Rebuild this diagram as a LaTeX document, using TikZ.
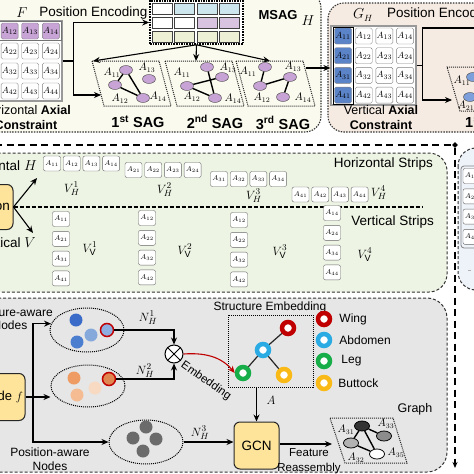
\documentclass[tikz,border=0pt]{standalone}
\usepackage{amsmath}
\usepackage{fontspec}
\setmainfont{Liberation Sans}
\usetikzlibrary{arrows.meta,shapes.geometric,positioning}

\definecolor{creamfill}{HTML}{FBFAEF}
\definecolor{peachfill}{HTML}{F6EBE2}
\definecolor{greenfill}{HTML}{EDF4E4}
\definecolor{grayfill}{HTML}{E6E6E6}
\definecolor{bluefill}{HTML}{EEF3FA}
\definecolor{nodeyellow}{HTML}{FDE49A}
\definecolor{sagpurple}{HTML}{C7A3D6}
\definecolor{colblue}{HTML}{5B83C8}
\definecolor{sagblue}{HTML}{7DA0DC}
\definecolor{fmblue}{HTML}{CDE6EE}
\definecolor{fmpurple}{HTML}{D8C3E0}
\definecolor{fmgreen}{HTML}{EEF0D6}
\definecolor{wingred}{HTML}{C00000}
\definecolor{abdblue}{HTML}{2AABE4}
\definecolor{leggreen}{HTML}{17AD49}
\definecolor{buttyellow}{HTML}{F9B916}
\definecolor{blueA}{HTML}{3A6BC8}
\definecolor{blueB}{HTML}{4C7ED0}
\definecolor{blueC}{HTML}{86A9DB}
\definecolor{blueR}{HTML}{8DAEE0}
\definecolor{orgA}{HTML}{EE9B64}
\definecolor{orgB}{HTML}{F5BC93}
\definecolor{orgC}{HTML}{F8D9C2}
\definecolor{orgR}{HTML}{E08650}
\definecolor{graydot}{HTML}{6B6B6B}

\newcommand{\fsz}[1]{\fontsize{#1}{#1}\selectfont}

\begin{document}
\begin{tikzpicture}[x=1pt,y=-1pt,
  cell/.style={draw=black!50,rounded corners=1.5pt,fill=white,minimum width=17pt,minimum height=16pt,inner sep=0pt,font=\fsz{9.5}},
  stripbox/.style={draw=black!60,rounded corners=2pt,fill=white,minimum width=17pt,minimum height=15pt,inner sep=0pt,font=\fsz{7}},
  fmcell/.style={draw=black!75,line width=0.8pt,minimum width=20pt,minimum height=11pt,inner sep=0pt},
  txt/.style={inner sep=0pt,font=\fsz{13.5}},
  vlbl/.style={inner sep=0pt,font=\fsz{13}},
  sagtitle/.style={inner sep=0pt,font=\bfseries\fsz{14.5}},
  saglbl/.style={inner sep=0pt,font=\fsz{10.5}},
  sagnode/.style={ellipse,draw=black!70,fill=#1,minimum width=13pt,minimum height=9pt,inner sep=0pt},
  sagframe/.style={draw=black!85,line width=1pt,densely dotted},
  sagedge/.style={line width=1.4pt},
  conn/.style={line width=1.1pt},
  arr/.style={conn,-{Stealth[length=7pt,width=6pt]}},
  dotpanel/.style={draw=black!80,line width=1.1pt,dash pattern=on 1.5pt off 1.2pt},
  dashpanel/.style={draw=black!80,line width=1pt,dash pattern=on 3pt off 2pt},
  sepline/.style={line width=1.6pt,dash pattern=on 7pt off 4.5pt},
  midline/.style={line width=1.2pt,dash pattern=on 4pt off 2pt},
  ybox/.style={draw=black!85,line width=1pt,fill=nodeyellow,rounded corners=6pt,inner sep=2pt},
  cluster/.style={ellipse,draw,line width=1pt,densely dotted,minimum width=74pt,minimum height=44pt},
  blob/.style={circle,fill=#1,minimum size=13pt,inner sep=0pt},
  ring/.style={circle,draw=#1,line width=4.5pt,fill=white,minimum size=12pt,inner sep=0pt},
  gnode/.style={ellipse,draw=black,line width=0.8pt,fill=#1,minimum width=15pt,minimum height=10pt,inner sep=0pt},
  legtxt/.style={inner sep=0pt,font=\fsz{12},anchor=west}]

\useasboundingbox (0,0) rectangle (474,474);
\clip (0,0) rectangle (474,474);

% panels
\draw[dotpanel,fill=creamfill,rounded corners=16pt] (-30,-8) rectangle (321,132);
\draw[dotpanel,fill=peachfill,rounded corners=16pt] (328,3) rectangle (560,132);
\draw[dashpanel,fill=greenfill,rounded corners=18pt] (-30,153) rectangle (447,292);
\draw[dashpanel,fill=bluefill,rounded corners=18pt] (458,148) rectangle (560,290);
\draw[dashpanel,fill=grayfill,rounded corners=20pt] (-30,298) rectangle (447,472);

\node[diamond,fill=black,inner sep=0pt,minimum size=6pt] (junc) at (455,145) {};
\coordinate (sepend) at (455,468);
\draw[sepline] (-5,145) -- (junc.west);
\draw[sepline,-{Stealth[length=6pt,width=5pt]}] (junc.south) -- (sepend);

% horizontal axial constraint
\node[txt] (Flbl) at (22,13) {$F$};
\node[txt] (pe1) at (93.5,13) {Position Encoding};
\node[draw=black!40,line width=1.2pt,fill=white,minimum width=84pt,minimum height=80pt,inner sep=0pt] (lgrid) at (20,61) {};
\foreach \j in {1,...,4}
  \node[cell,fill=sagpurple] (l1\j) at ({-11+20.6*(\j-1)},31) {$A_{1\j}$};
\foreach \i in {2,...,4}
  \foreach \j in {1,...,4}
    \node[cell] (l\i\j) at ({-11+20.6*(\j-1)},{31+20*(\i-1)}) {$A_{\i\j}$};
\draw[black!55,line width=0.9pt] (-22,21.5) rectangle (61.5,40.5);

\node[draw=black,line width=1.6pt,densely dotted,fill=white,minimum width=93pt,minimum height=43pt,inner sep=0pt] (fmap) at (196.5,22.5) {};
\foreach \i/\j/\c in {1/1/white,1/2/fmblue,1/3/fmblue,1/4/fmblue,
                      2/1/white,2/2/white,2/3/fmpurple,2/4/fmpurple,
                      3/1/fmgreen,3/2/fmgreen,3/3/fmgreen,3/4/fmgreen}
  \node[fmcell,fill=\c] (f\i\j) at ({162+22.5*(\j-1)},{8.5+14*(\i-1)}) {};
\node[inner sep=0pt,font=\bfseries\fsz{13}] (msag) at (278,15) {MSAG};
\node[txt] (msagH) at (308,21) {$H$};

\draw[conn] (lgrid.east) -- ++(11,0) coordinate (lsplit);
\coordinate (s1in) at (101,95);
\draw[arr] (lsplit) |- (fmap.west);
\draw[arr] (lsplit) |- (s1in);

\coordinate (s1top) at (93,61);
\coordinate (s2top) at (196,61);
\coordinate (s3top) at (270,61);
\draw[arr] (fmap.south) -- (s1top);
\draw[arr] (fmap.south) -- (s2top);
\draw[arr] (fmap.south) -- (s3top);

% 1st SAG
\draw[sagframe] (92,61) -- (159,61) -- (171,106) -- (104,106) -- cycle;
\node[sagnode=sagpurple] (n1a) at (126,70) {};
\node[sagnode=sagpurple] (n1b) at (149,79) {};
\node[sagnode=sagpurple] (n1c) at (115,85) {};
\node[sagnode=sagpurple] (n1d) at (143,98) {};
\draw[sagedge] (n1a) -- (n1c) (n1c) -- (n1d) (n1a) -- (n1d);
\node[saglbl] at (112,73) {$A_{11}$};
\node[saglbl] at (147,68) {$A_{13}$};
\node[saglbl] at (120,99) {$A_{12}$};
\node[saglbl] at (158,97) {$A_{14}$};
\node[sagtitle] (t1) at (138,122) {1\textsuperscript{st} SAG};

% 2nd SAG
\draw[sagframe] (165,61) -- (232,61) -- (244,106) -- (177,106) -- cycle;
\node[sagnode=sagpurple] (n2a) at (207,67) {};
\node[sagnode=sagpurple] (n2b) at (222,77) {};
\node[sagnode=sagpurple] (n2c) at (187,86) {};
\node[sagnode=sagpurple] (n2d) at (215,98) {};
\draw[sagedge] (n2a) -- (n2d) (n2c) -- (n2d) (n2c) -- (n2b);
\node[saglbl] at (182,73) {$A_{11}$};
\node[saglbl] at (228,68) {$A_{13}$};
\node[saglbl] at (192,97) {$A_{12}$};
\node[saglbl] at (233,99) {$A_{14}$};
\node[sagtitle] (t2) at (215,122) {2\textsuperscript{nd} SAG};

% 3rd SAG
\draw[sagframe] (236,61) -- (303,61) -- (315,106) -- (248,106) -- cycle;
\node[sagnode=sagpurple] (n3a) at (265,67) {};
\node[sagnode=sagpurple] (n3b) at (290,77) {};
\node[sagnode=sagpurple] (n3c) at (260,86) {};
\node[sagnode=sagpurple] (n3d) at (283,97) {};
\draw[sagedge] (n3a) -- (n3c) (n3c) -- (n3b) (n3b) -- (n3d);
\node[saglbl] at (248,72) {$A_{11}$};
\node[saglbl] at (293,67) {$A_{13}$};
\node[saglbl] at (262,98) {$A_{12}$};
\node[saglbl] at (303,98) {$A_{14}$};
\node[sagtitle] (t3) at (283,123) {3\textsuperscript{rd} SAG};

\node[txt,align=center,font=\fontsize{12.5}{15}\selectfont] (hac) at (26,118) {Horizontal \textbf{Axial}\\\textbf{Constraint}};

% vertical axial constraint
\node[txt] (GHlbl) at (363,15) {$G_H$};
\node[txt,anchor=west] (pe2) at (387,14) {Position Encoding};
\node[draw=black!40,line width=1.2pt,fill=white,minimum width=85pt,minimum height=79pt,inner sep=0pt] (rgrid) at (373.5,65.5) {};
\foreach \i in {1,...,4}
  \node[cell,fill=colblue] (r\i1) at (343,{36+19.7*(\i-1)}) {$A_{\i1}$};
\foreach \i in {1,...,4}
  \foreach \j in {2,...,4}
    \node[cell] (r\i\j) at ({343+20.7*(\j-1)},{36+19.7*(\i-1)}) {$A_{\i\j}$};
\draw[black,line width=1pt] (333,27) rectangle (353.5,104.5);

\coordinate (s3out) at (306,68);
\draw[arr] (s3out) -- (s3out -| rgrid.west);

\draw[conn] (rgrid.east) -- ++(6,0) coordinate (rsplit);
\coordinate (rtopend) at (490,28);
\coordinate (rs1in) at (452,100);
\draw[conn] (rsplit) |- (rtopend);
\draw[arr] (rsplit) |- (rs1in);

\draw[sagframe] (520,67) -- (447,67) -- (460,111) -- (520,111);
\node[sagnode=sagblue] (rn1) at (473,77) {};
\node[sagnode=sagblue] (rn2) at (470,97) {};
\node[saglbl] at (462,81) {$A_{11}$};
\node[saglbl] at (466,106) {$A_{21}$};
\node[sagtitle,anchor=west] (rt1) at (465,122) {1\textsuperscript{st} SAG};

\node[txt,align=center,font=\fontsize{12.5}{15}\selectfont] (vac) at (381,118) {Vertical \textbf{Axial}\\\textbf{Constraint}};

% strips
\node[ybox,minimum width=50pt,minimum height=45pt,text width=44pt,align=right,font=\fsz{13.5}] (split) at (-12,207) {on};
\coordinate (hhtip) at (37,178);
\coordinate (vvtip) at (33,233);
\coordinate (midend) at (422,207);
\draw[arr] (split.east) -- (hhtip);
\draw[arr] (split.east) -- (vvtip);
\draw[midline] (split.east) -- (midend);
\node[txt,anchor=east] (hname) at (37,166) {Horizontal $H$};
\node[txt,anchor=east] (vname) at (36,243) {Vertical $V$};

\foreach \k/\x/\y in {1/52/163.5,2/133.5/170,3/219/179,4/300.5/194.5}
  \foreach \j in {1,...,4}
    \node[stripbox] (h\k\j) at ({\x+19.7*(\j-1)},\y) {$A_{\k\j}$};
\node[vlbl] at (72,189) {$V_H^1$};
\node[vlbl] at (165,190) {$V_H^2$};
\node[vlbl] at (254,196) {$V_H^3$};
\node[vlbl] at (379,193) {$V_H^4$};
\node[txt,anchor=east] (hstrips) at (433,164) {Horizontal Strips};

\foreach \k/\c/\x/\y in {1/1/61/219,2/2/147/218,3/2/239/220,4/4/332/213}
  \foreach \i in {1,...,4}
    \node[stripbox] (v\k\i) at (\x,{\y+19.8*(\i-1)}) {$A_{\i\c}$};
\node[vlbl] at (90,249) {$V_{\mathrm{V}}^1$};
\node[vlbl] at (185,251) {$V_{\mathrm{V}}^2$};
\node[vlbl] at (280,252) {$V_{\mathrm{V}}^3$};
\node[vlbl] at (365,255) {$V_{\mathrm{V}}^4$};
\node[txt,anchor=east] (vstrips) at (434,222) {Vertical Strips};

\draw[black!50,rounded corners=3pt,line width=0.8pt] (461,166) rectangle (500,248);
\foreach \i in {1,...,4}
  \node[stripbox] (b\i) at (471.5,{176+20.3*(\i-1)}) {$A_{\i1}$};
\draw[black!30,dashed] (468,270) -- (520,270);

% graph part
\node[txt,align=center,font=\fontsize{12}{13.5}\selectfont] (sanodes) at (10,319) {Structure-aware\\Nodes};
\node[txt,align=center,font=\fontsize{12}{14}\selectfont] (panodes) at (50,459) {Position-aware\\Nodes};
\node[ybox,minimum width=46pt,minimum height=47pt,font=\fsz{13}] (nodef) at (2,397) {Node $f$};

\node[cluster] (ell1) at (87,330) {};
\node[cluster,minimum height=42pt] (ell2) at (88,386) {};
\node[cluster] (ell3) at (146,442) {};

\node[blob=blueA] (s1) at (76,320) {};
\node[blob=blueB] (s2) at (77,342) {};
\node[blob=blueC] (s3) at (91,335) {};
\node[blob=blueR,draw=wingred,line width=1.5pt] (r1) at (107,330) {};
\node[blob=orgA] (o1) at (74,378) {};
\node[blob=orgB] (o2) at (77,395) {};
\node[blob=orgC] (o3) at (95,388) {};
\node[blob=orgR,draw=wingred,line width=1.5pt] (r2) at (109,379) {};
\node[blob=graydot] (g1) at (146,427) {};
\node[blob=graydot] (g2) at (133,438) {};
\node[blob=graydot] (g3) at (156,439) {};
\node[blob=graydot] (g4) at (143,451) {};

\coordinate (spine) at (33,397);
\draw[conn] (nodef.east) -- (spine);
\draw[arr] (spine) |- (ell1.170);
\draw[arr] (spine) -- (spine -| ell2.west);
\draw[arr] (spine) |- (ell3.west);

\node[circle,draw,line width=1pt,fill=white,minimum size=18pt,inner sep=0pt] (otimes) at (174,354) {};
\draw[line width=1pt] (otimes.45) -- (otimes.225) (otimes.135) -- (otimes.315);
\draw[arr] (r1.east) -| (otimes.north);
\draw[arr] (r2.east) -| (otimes.south);
\node[vlbl] at (148,318) {$N_H^1$};
\node[vlbl] at (145,371) {$N_H^2$};
\node[vlbl] at (200,433) {$N_H^3$};

\node[draw,densely dotted,line width=1pt,minimum width=85pt,minimum height=72pt,inner sep=0pt] (sebox) at (270.5,351) {};
\node[inner sep=0pt,font=\fsz{12}] (setitle) at (270,307) {Structure Embedding};
\node[ring=wingred] (wing) at (288,328) {};
\node[ring=abdblue] (abd) at (263,350) {};
\node[ring=leggreen] (leg) at (243,373) {};
\node[ring=buttyellow] (butt) at (284,375) {};
\draw[line width=1.2pt,black!85] (abd) -- (wing) (abd) -- (leg) (abd) -- (butt);

\draw[arr,wingred] (otimes.east) .. controls (210,352) and (224,360) .. (leg.west);
\node[inner sep=0pt,font=\fsz{11.5},rotate=-35] (embtxt) at (206,381) {Embedding};

\node[ring=wingred] (lwing) at (324,319) {};
\node[ring=abdblue] (labd) at (324,340) {};
\node[ring=leggreen] (lleg) at (324,361) {};
\node[ring=buttyellow] (lbutt) at (324,383) {};
\node[legtxt,right=7pt of lwing] {Wing};
\node[legtxt,right=7pt of labd] {Abdomen};
\node[legtxt,right=9pt of lleg] {Leg};
\node[legtxt,right=6pt of lbutt] {Buttock};

\node[txt,font=\fsz{13}] (Albl) at (271,400) {$A$};
\node[ybox,minimum width=45pt,minimum height=47pt,font=\fsz{13.5}] (gcn) at (256.5,445.5) {GCN};
\draw[arr] (gcn.north |- sebox.south) -- (gcn.north);
\draw[arr] (ell3.east) -- (ell3.east -| gcn.west);

\coordinate (outin) at (332,444);
\draw[arr] (gcn.east |- outin) -- (outin);
\node[txt,align=center,font=\fontsize{11.5}{15.5}\selectfont] (reass) at (309,461) {Feature\\Reassembly};
\node[txt,font=\fsz{12.5}] (graphlbl) at (415,409) {Graph};

\draw[sagframe] (330,418) -- (393,418) -- (407,463) -- (345,463) -- cycle;
\node[gnode=black!80] (q1) at (362,426) {};
\node[gnode=black!45] (q2) at (384,436) {};
\node[gnode=black!30] (q3) at (351,443) {};
\node[gnode=white] (q4) at (377,454) {};
\draw[sagedge] (q1) -- (q3) (q1) -- (q2) (q1) -- (q4) (q3) -- (q4);
\node[saglbl] at (346,430) {$A_{31}$};
\node[saglbl] at (386,424) {$A_{33}$};
\node[saglbl] at (356,458) {$A_{32}$};
\node[saglbl] at (396,453) {$A_{35}$};

\end{tikzpicture}
\end{document}
